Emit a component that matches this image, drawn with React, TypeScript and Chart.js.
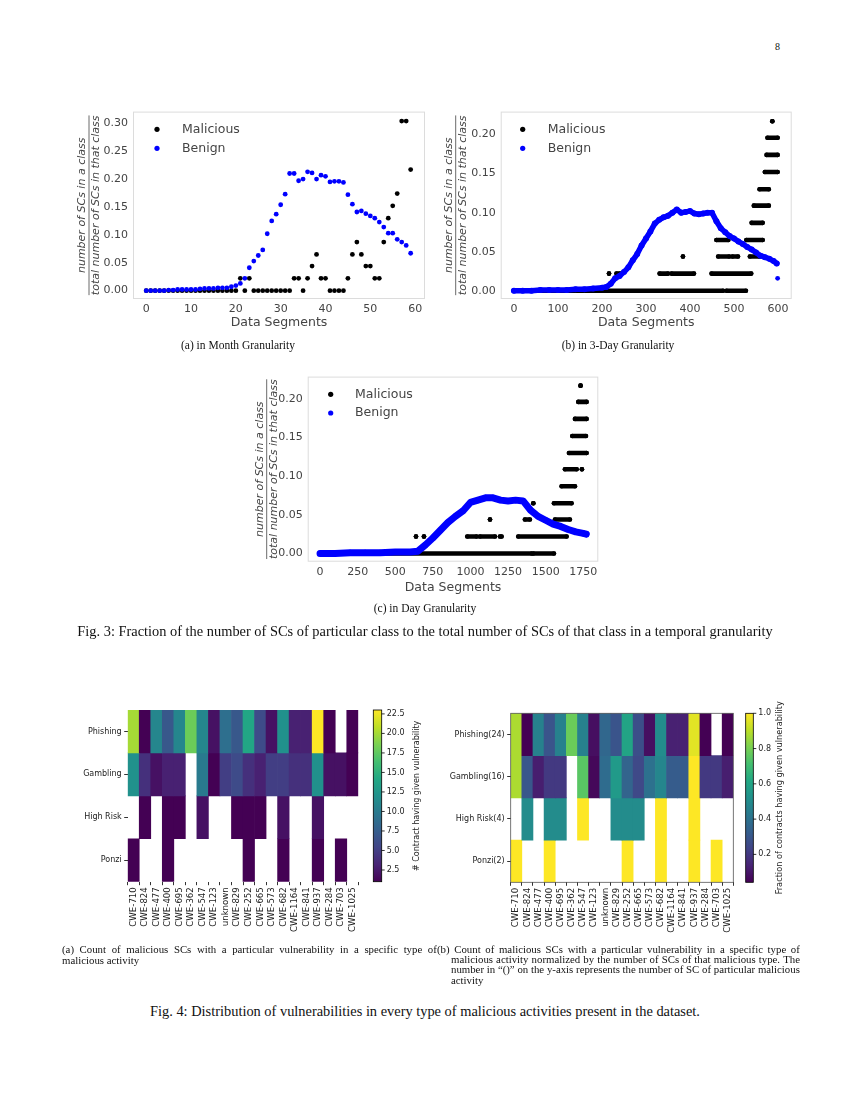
import { useEffect, useRef } from 'react';
import { Chart, registerables } from 'chart.js';

Chart.register(...registerables);
Chart.defaults.font.family = "'DejaVu Sans', sans-serif";

// ---------- Fig. 3 (a): month granularity, one value per segment 0..59 ----------
const monthBenign = [
  0.0, 0.0, 0.0, 0.0, 0.0, 0.001, 0.001, 0.002, 0.002, 0.002, 0.002, 0.002, 0.003, 0.004, 0.004,
  0.004, 0.005, 0.005, 0.005, 0.007, 0.009, 0.013, 0.022, 0.041, 0.053, 0.063, 0.073, 0.102, 0.125,
  0.137, 0.154, 0.173, 0.21, 0.21, 0.197, 0.2, 0.213, 0.211, 0.2, 0.207, 0.205, 0.195, 0.196, 0.196,
  0.194, 0.172, 0.155, 0.141, 0.143, 0.138, 0.134, 0.13, 0.123, 0.114, 0.103, 0.103, 0.092, 0.087,
  0.081, 0.067,
];
const monthMalicious = [
  0, 0, 0, 0, 0, 0, 0, 0, 0, 0, 0, 0, 0, 0, 0, 0, 0, 0, 0, 0, 0, 0.022, 0, 0.022, 0, 0, 0, 0, 0, 0,
  0, 0, 0, 0.022, 0.022, 0, 0.022, 0.044, 0.065, 0.022, 0.022, 0, 0, 0, 0, 0.022, 0.065, 0.087,
  0.065, 0.044, 0.044, 0.022, 0.022, 0.087, 0.13, 0.152, 0.174, 0.304, 0.304, 0.217,
];
const monthXTicks = [0, 10, 20, 30, 40, 50, 60];
const monthYTicks = [0, 0.05, 0.1, 0.15, 0.2, 0.25, 0.3];

// ---------- Fig. 3 (b): 3-day granularity ----------
const threeDayBenignX = [
  0, 20, 40, 60, 80, 100, 120, 140, 160, 180, 200, 210, 220, 230, 240, 250, 260, 270, 280, 290, 300,
  310, 320, 330, 340, 350, 360, 370, 380, 390, 400, 410, 420, 430, 440, 450, 460, 470, 480, 490, 500,
  510, 520, 530, 540, 550, 560, 570, 580, 590, 597,
];
const threeDayBenignY = [
  0.0, 0.0, 0.0, 0.001, 0.001, 0.001, 0.001, 0.002, 0.002, 0.003, 0.004, 0.005, 0.009, 0.016, 0.019,
  0.024, 0.03, 0.039, 0.047, 0.058, 0.067, 0.076, 0.086, 0.091, 0.094, 0.096, 0.1, 0.104, 0.1, 0.101,
  0.102, 0.099, 0.098, 0.099, 0.1, 0.1, 0.089, 0.08, 0.075, 0.07, 0.067, 0.063, 0.06, 0.056, 0.053,
  0.049, 0.045, 0.043, 0.041, 0.038, 0.035,
];
const threeDayOutlierX = [599];
const threeDayOutlierY = [0.016];
// malicious points lie in horizontal runs of consecutive segments
const threeDayMalStart = [0, 483, 216, 233, 331, 358, 449, 384, 464, 496, 536, 460, 528, 540, 545, 558, 570, 574, 576, 587];
const threeDayMalEnd = [475, 527, 216, 241, 350, 409, 539, 384, 489, 509, 558, 487, 565, 565, 579, 579, 599, 599, 599, 587];
const threeDayMalLevel = [0, 0, 0.022, 0.022, 0.022, 0.022, 0.022, 0.044, 0.044, 0.044, 0.044, 0.065, 0.065, 0.087, 0.109, 0.13, 0.152, 0.174, 0.196, 0.217];
const threeDayXTicks = [0, 100, 200, 300, 400, 500, 600];

// ---------- Fig. 3 (c): day granularity ----------
const dayBenignX = [
  0, 100, 200, 300, 400, 500, 600, 650, 700, 750, 800, 850, 900, 950, 1000, 1050, 1100, 1150, 1200,
  1250, 1300, 1350, 1400, 1450, 1500, 1550, 1600, 1650, 1700, 1750, 1770,
];
const dayBenignY = [
  0.0, 0.0, 0.001, 0.001, 0.001, 0.002, 0.002, 0.003, 0.011, 0.02, 0.03, 0.04, 0.048, 0.055, 0.066,
  0.069, 0.072, 0.072, 0.069, 0.068, 0.069, 0.068, 0.056, 0.048, 0.043, 0.038, 0.035, 0.031, 0.028,
  0.026, 0.025,
];
const dayMalStart = [0, 1418, 638, 691, 979, 1063, 1196, 1318, 1130, 1362, 1562, 1418, 1555, 1606, 1628, 1741, 1655, 1677, 1695, 1717, 1732];
const dayMalEnd = [1407, 1555, 638, 691, 1041, 1163, 1207, 1639, 1130, 1395, 1661, 1418, 1672, 1695, 1706, 1741, 1772, 1768, 1772, 1772, 1732];
const dayMalLevel = [0, 0, 0.022, 0.022, 0.022, 0.022, 0.022, 0.022, 0.044, 0.044, 0.044, 0.065, 0.065, 0.087, 0.109, 0.109, 0.13, 0.152, 0.174, 0.196, 0.217];
const dayXTicks = [0, 250, 500, 750, 1000, 1250, 1500, 1750];
const fineYTicks = [0, 0.05, 0.1, 0.15, 0.2];

const legendLabels = ['Malicious', 'Benign'];
const legendColors = ['#000000', '#0000ff'];
const fracTop = 'number of SCs in a class';
const fracBottom = 'total number of SCs in that class';

// ---------- Fig. 4 heatmaps ----------
const cweLabels = [
  'CWE-710', 'CWE-824', 'CWE-477', 'CWE-400', 'CWE-695', 'CWE-362', 'CWE-547', 'CWE-123', 'unknown', 'CWE-829',
  'CWE-252', 'CWE-665', 'CWE-573', 'CWE-682', 'CWE-1164', 'CWE-841', 'CWE-937', 'CWE-284', 'CWE-703', 'CWE-1025',
];
const activityLabels = ['Phishing', 'Gambling', 'High Risk', 'Ponzi'];
const activityLabelsNorm = ['Phishing(24)', 'Gambling(16)', 'High Risk(4)', 'Ponzi(2)'];

const countPhishing = [20, 1, 11, 7, 11, 18, 11, 2, 9, 7, 14, 6, 2, 12, 3, 3, 23, 1, null, 1];
const countGambling = [12, 4, 2, 3, 3, null, 10, 1, 5, 6, 4, 3, 5, 5, 4, 4, 12, 2, 2, 1];
const countHighRisk = [null, 1, null, 1, 1, null, 2, null, null, 1, 1, 1, null, 2, null, null, 2, null, null, null];
const countPonzi = [1, null, null, 1, null, null, null, null, null, null, 1, null, null, 1, null, null, 1, null, 1, null];
const countTicks = [2.5, 5, 7.5, 10, 12.5, 15, 17.5, 20, 22.5];

const fracPhishing = [0.88, 0.04, 0.46, 0.29, 0.46, 0.78, 0.46, 0.08, 0.36, 0.29, 0.6, 0.27, 0.08, 0.5, 0.13, 0.13, 0.96, 0.04, null, 0.04];
const fracGambling = [0.88, 0.3, 0.12, 0.2, 0.2, null, 0.75, 0.06, 0.38, 0.56, 0.35, 0.25, 0.4, 0.48, 0.32, 0.32, 1.0, 0.2, 0.2, 0.12];
const fracHighRisk = [null, 0.5, null, 0.5, 0.5, null, 1.0, null, null, 0.5, 0.5, 0.5, null, 1.0, null, null, 1.0, null, null, null];
const fracPonzi = [1.0, null, null, 1.0, null, null, null, null, null, null, 1.0, null, null, 1.0, null, null, 1.0, null, 1.0, null];
const fracTicks = [0.2, 0.4, 0.6, 0.8, 1.0];

const VIRIDIS = ['#440154', '#482475', '#414487', '#355f8d', '#2a788e', '#21918c', '#22a884', '#44bf70', '#7ad151', '#bddf26', '#fde725'];

function hexRgb(h: string): number[] {
  return [1, 3, 5].map((i) => parseInt(h.slice(i, i + 2), 16));
}

function viridis(t: number): string {
  const c = Math.min(1, Math.max(0, t)) * (VIRIDIS.length - 1);
  const i = Math.min(VIRIDIS.length - 2, Math.floor(c));
  const f = c - i;
  const a = hexRgb(VIRIDIS[i]);
  const b = hexRgb(VIRIDIS[i + 1]);
  const m = a.map((v, k) => Math.round(v + (b[k] - v) * f));
  return `rgb(${m[0]},${m[1]},${m[2]})`;
}

function zip(xs: number[], ys: number[]) {
  return xs.map((x, i) => ({ x, y: ys[i] }));
}

// each run -> two end points plus a break
function runsToPoints(start: number[], end: number[], level: number[]) {
  const pts: { x: number; y: number | null }[] = [];
  start.forEach((s, i) => {
    pts.push({ x: s, y: level[i] }, { x: end[i], y: level[i] }, { x: end[i], y: null });
  });
  return pts;
}

const scatterDecor = {
  id: 'scatterDecor',
  afterDraw(chart: any, _args: any, opts: any) {
    const { ctx, chartArea: a } = chart;
    ctx.save();
    ctx.strokeStyle = '#dcdcdc';
    ctx.lineWidth = 1;
    ctx.strokeRect(a.left + 0.5, a.top + 0.5, a.right - a.left - 1, a.bottom - a.top - 1);

    // legend
    ctx.font = "12.5px 'DejaVu Sans'";
    ctx.textBaseline = 'middle';
    ctx.textAlign = 'left';
    legendLabels.forEach((label, i) => {
      const y = a.top + opts.legendY + i * opts.legendGap;
      ctx.fillStyle = legendColors[i];
      ctx.beginPath();
      ctx.arc(a.left + opts.dotX, y, 2.6, 0, Math.PI * 2);
      ctx.fill();
      ctx.fillStyle = '#444';
      ctx.fillText(label, a.left + opts.textX, y);
    });

    // y label as a fraction
    ctx.translate(a.left + opts.fracOffset, (a.top + a.bottom) / 2);
    ctx.rotate(-Math.PI / 2);
    ctx.font = "italic 11px 'DejaVu Sans'";
    ctx.fillStyle = '#444';
    ctx.textAlign = 'center';
    ctx.textBaseline = 'bottom';
    ctx.fillText(fracTop, 0, -1.5);
    ctx.textBaseline = 'top';
    ctx.fillText(fracBottom, 0, 2);
    const w = ctx.measureText(fracBottom).width;
    ctx.strokeStyle = '#444';
    ctx.lineWidth = 0.8;
    ctx.beginPath();
    ctx.moveTo(-w / 2, 0);
    ctx.lineTo(w / 2, 0);
    ctx.stroke();
    ctx.restore();
  },
};

const heatDecor = {
  id: 'heatDecor',
  afterDraw(chart: any, _args: any, opts: any) {
    const { ctx, chartArea: a } = chart;
    ctx.save();
    ctx.lineWidth = 0.8;
    if (opts.frame) {
      ctx.strokeStyle = '#555';
      ctx.strokeRect(a.left, a.top, a.right - a.left, a.bottom - a.top);
    }

    // colour bar
    const x0 = a.right + opts.cbGap;
    const w = opts.cbWidth;
    const grad = ctx.createLinearGradient(0, a.bottom, 0, a.top);
    VIRIDIS.forEach((c, i) => grad.addColorStop(i / (VIRIDIS.length - 1), c));
    ctx.fillStyle = grad;
    ctx.fillRect(x0, a.top, w, a.bottom - a.top);
    ctx.strokeStyle = '#000';
    ctx.strokeRect(x0, a.top, w, a.bottom - a.top);

    ctx.font = "8px 'DejaVu Sans'";
    ctx.fillStyle = '#222';
    ctx.textAlign = 'left';
    ctx.textBaseline = 'middle';
    (opts.ticks as number[]).forEach((t) => {
      const y = a.bottom - ((t - opts.min) / (opts.max - opts.min)) * (a.bottom - a.top);
      ctx.beginPath();
      ctx.moveTo(x0 + w, y);
      ctx.lineTo(x0 + w + 3, y);
      ctx.stroke();
      ctx.fillText(t.toFixed(1), x0 + w + 5, y);
    });

    ctx.translate(x0 + w + opts.titleOffset, (a.top + a.bottom) / 2);
    ctx.rotate(-Math.PI / 2);
    ctx.font = `${opts.titleSize}px 'DejaVu Sans'`;
    ctx.textAlign = 'center';
    ctx.fillText(opts.title, 0, 0);
    ctx.restore();
  },
};

interface Box {
  left: number;
  top: number;
  width: number;
  height: number;
}

function ChartBox({ box, makeConfig }: { box: Box; makeConfig: () => any }) {
  const ref = useRef<HTMLCanvasElement | null>(null);
  useEffect(() => {
    if (!ref.current) return;
    const chart = new Chart(ref.current, makeConfig());
    return () => chart.destroy();
  }, []);
  return (
    <div style={{ position: 'absolute', left: box.left, top: box.top, width: box.width, height: box.height }}>
      <canvas ref={ref} />
    </div>
  );
}

interface ScatterSpec {
  datasets: any[];
  xRange: [number, number];
  yRange: [number, number];
  xTicks: number[];
  yTicks: number[];
  yAxisWidth: number;
  xAxisHeight: number;
  padTop: number;
  padRight: number;
  decor: any;
}

function scatterConfig(s: ScatterSpec) {
  return {
    type: 'scatter',
    data: { datasets: s.datasets },
    plugins: [scatterDecor],
    options: {
      animation: false,
      responsive: true,
      maintainAspectRatio: false,
      layout: { padding: { top: s.padTop, right: s.padRight, left: 0, bottom: 0 } },
      plugins: { legend: { display: false }, tooltip: { enabled: false }, scatterDecor: s.decor },
      scales: {
        x: {
          type: 'linear',
          min: s.xRange[0],
          max: s.xRange[1],
          grid: { display: false, drawTicks: false },
          border: { display: false },
          afterBuildTicks: (sc: any) => {
            sc.ticks = s.xTicks.map((value) => ({ value }));
          },
          afterFit: (sc: any) => {
            sc.height = s.xAxisHeight;
          },
          ticks: { font: { size: 11 }, color: '#444', padding: 4, maxRotation: 0, autoSkip: false, callback: (v: number) => String(v) },
          title: { display: true, text: 'Data Segments', color: '#444', font: { size: 12.5, lineHeight: 1.2 }, padding: { top: 0, bottom: 14.5 } },
        },
        y: {
          type: 'linear',
          min: s.yRange[0],
          max: s.yRange[1],
          grid: { display: false, drawTicks: false },
          border: { display: false },
          afterBuildTicks: (sc: any) => {
            sc.ticks = s.yTicks.map((value) => ({ value }));
          },
          afterFit: (sc: any) => {
            sc.width = s.yAxisWidth;
          },
          ticks: { font: { size: 11 }, color: '#444', padding: 5, callback: (v: number) => v.toFixed(2) },
        },
      },
    },
  };
}

const dot = { pointRadius: 2.4, pointBorderWidth: 0, pointHoverRadius: 2.4 };

function benignBand(xs: number[], ys: number[], width: number) {
  return {
    data: zip(xs, ys),
    showLine: true,
    borderColor: '#0000ff',
    backgroundColor: '#0000ff',
    borderWidth: width,
    borderJoinStyle: 'round',
    borderCapStyle: 'round',
    pointRadius: 3,
    pointBorderWidth: 0,
  };
}

function maliciousRuns(start: number[], end: number[], level: number[]) {
  return {
    data: runsToPoints(start, end, level),
    showLine: true,
    spanGaps: false,
    borderColor: '#000',
    backgroundColor: '#000',
    borderWidth: 4.6,
    borderCapStyle: 'round',
    pointRadius: 2.3,
    pointBorderWidth: 0,
  };
}

interface HeatSpec {
  rows: (number | null)[][];
  rowLabels: string[];
  min: number;
  max: number;
  ticks: number[];
  yAxisWidth: number;
  xAxisHeight: number;
  padTop: number;
  padRight: number;
  cbGap: number;
  cbWidth: number;
  title: string;
  titleOffset: number;
  titleSize: number;
  frame: boolean;
}

function heatConfig(h: HeatSpec) {
  const n = h.rows.length;
  return {
    type: 'bar',
    data: {
      labels: cweLabels,
      datasets: h.rows.map((vals, r) => ({
        data: vals.map((v) => (v == null ? null : [n - 1 - r, n - r])),
        backgroundColor: vals.map((v) => (v == null ? 'rgba(0,0,0,0)' : viridis((v - h.min) / (h.max - h.min)))),
        borderWidth: 0,
        barPercentage: 1,
        categoryPercentage: 1,
        grouped: false,
      })),
    },
    plugins: [heatDecor],
    options: {
      animation: false,
      responsive: true,
      maintainAspectRatio: false,
      layout: { padding: { top: h.padTop, right: h.padRight, left: 0, bottom: 0 } },
      plugins: {
        legend: { display: false },
        tooltip: { enabled: false },
        heatDecor: {
          min: h.min,
          max: h.max,
          ticks: h.ticks,
          cbGap: h.cbGap,
          cbWidth: h.cbWidth,
          title: h.title,
          titleOffset: h.titleOffset,
          titleSize: h.titleSize,
          frame: h.frame,
        },
      },
      scales: {
        x: {
          type: 'category',
          grid: { display: true, drawOnChartArea: false, drawTicks: true, tickLength: 3.5, color: '#000', lineWidth: 0.8 },
          border: { display: false },
          afterFit: (sc: any) => {
            sc.height = h.xAxisHeight;
          },
          ticks: { font: { size: 8.6 }, color: '#222', padding: 2, minRotation: 90, maxRotation: 90, autoSkip: false },
        },
        y: {
          type: 'linear',
          min: 0,
          max: n,
          grid: { display: true, drawOnChartArea: false, drawTicks: true, tickLength: 3.5, color: '#000', lineWidth: 0.8 },
          border: { display: false },
          afterBuildTicks: (sc: any) => {
            sc.ticks = h.rowLabels.map((_, i) => ({ value: n - 0.5 - i }));
          },
          afterFit: (sc: any) => {
            sc.width = h.yAxisWidth;
          },
          ticks: {
            font: { size: 8 },
            color: '#222',
            padding: 2.5,
            callback: (v: number) => h.rowLabels[n - 1 - Math.floor(v)],
          },
        },
      },
    },
  };
}

const CAPTION_SIZE = 10.8;

function JustLine({ text, left, top, width }: { text: string; left: number; top: number; width: number }) {
  return (
    <div
      style={{
        position: 'absolute',
        left,
        top,
        width,
        display: 'flex',
        justifyContent: 'space-between',
        whiteSpace: 'nowrap',
        fontSize: CAPTION_SIZE,
        lineHeight: '10px',
      }}
    >
      {text.split(' ').map((w, i) => (
        <span key={i}>{w}</span>
      ))}
    </div>
  );
}

function PlainLine({ text, left, top, size = CAPTION_SIZE, center = false }: { text: string; left: number; top: number; size?: number; center?: boolean }) {
  return (
    <div
      style={{
        position: 'absolute',
        left: center ? left - 400 : left,
        top,
        width: center ? 800 : undefined,
        textAlign: center ? 'center' : 'left',
        whiteSpace: 'nowrap',
        fontSize: size,
        lineHeight: `${Math.round(size) + 1}px`,
      }}
    >
      {text}
    </div>
  );
}

export default function App() {
  return (
    <div
      style={{
        position: 'absolute',
        left: 0,
        top: 0,
        width: 850,
        height: 1100,
        background: '#fff',
        fontFamily: "'Liberation Serif', 'Times New Roman', serif",
        color: '#111',
        overflow: 'hidden',
      }}
    >
      <PlainLine text="8" left={775} top={41} size={10} />

      <ChartBox
        box={{ left: 60, top: 100, width: 380, height: 245 }}
        makeConfig={() =>
          scatterConfig({
            datasets: [
              { data: monthBenign.map((y, i) => ({ x: i, y })), backgroundColor: '#0000ff', ...dot },
              { data: monthMalicious.map((y, i) => ({ x: i, y })), backgroundColor: '#000', ...dot },
            ],
            xRange: [-2.95, 62.2],
            yRange: [-0.015, 0.321],
            xTicks: monthXTicks,
            yTicks: monthYTicks,
            yAxisWidth: 73,
            xAxisHeight: 46,
            padTop: 9,
            padRight: 15,
            decor: { dotX: 24, textX: 49, legendY: 17.7, legendGap: 19, fracOffset: -44 },
          })
        }
      />
      <ChartBox
        box={{ left: 440, top: 100, width: 370, height: 245 }}
        makeConfig={() =>
          scatterConfig({
            datasets: [
              benignBand(threeDayBenignX, threeDayBenignY, 5.5),
              { data: zip(threeDayOutlierX, threeDayOutlierY), backgroundColor: '#0000ff', ...dot },
              maliciousRuns(threeDayMalStart, threeDayMalEnd, threeDayMalLevel),
            ],
            xRange: [-30, 631],
            yRange: [-0.0105, 0.2294],
            xTicks: threeDayXTicks,
            yTicks: fineYTicks,
            yAxisWidth: 60.7,
            xAxisHeight: 46,
            padTop: 9,
            padRight: 18.3,
            decor: { dotX: 22, textX: 47, legendY: 17.7, legendGap: 19, fracOffset: -45 },
          })
        }
      />
      <PlainLine text="(a) in Month Granularity" left={238} top={339} size={11.5} center />
      <PlainLine text="(b) in 3-Day Granularity" left={618} top={339} size={11.5} center />

      <ChartBox
        box={{ left: 240, top: 365, width: 370, height: 245 }}
        makeConfig={() =>
          scatterConfig({
            datasets: [
              benignBand(dayBenignX, dayBenignY, 7),
              maliciousRuns(dayMalStart, dayMalEnd, dayMalLevel),
            ],
            xRange: [-82, 1850],
            yRange: [-0.0106, 0.2287],
            xTicks: dayXTicks,
            yTicks: fineYTicks,
            yAxisWidth: 67.7,
            xAxisHeight: 48.3,
            padTop: 7.3,
            padRight: 11.7,
            decor: { dotX: 23, textX: 47.3, legendY: 17.7, legendGap: 18.7, fracOffset: -41 },
          })
        }
      />
      <PlainLine text="(c) in Day Granularity" left={425} top={602} size={11.5} center />
      <PlainLine
        text="Fig. 3: Fraction of the number of SCs of particular class to the total number of SCs of that class in a temporal granularity"
        left={425}
        top={624}
        size={14.4}
        center
      />

      <ChartBox
        box={{ left: 60, top: 700, width: 380, height: 245 }}
        makeConfig={() =>
          heatConfig({
            rows: [countPhishing, countGambling, countHighRisk, countPonzi],
            rowLabels: activityLabels,
            min: 1,
            max: 23,
            ticks: countTicks,
            yAxisWidth: 67.7,
            xAxisHeight: 63.3,
            padTop: 10,
            padRight: 81.7,
            cbGap: 15,
            cbWidth: 8.4,
            title: '# Contract having given vulnerability',
            titleOffset: 35.6,
            titleSize: 8,
            frame: false,
          })
        }
      />
      <ChartBox
        box={{ left: 440, top: 700, width: 360, height: 245 }}
        makeConfig={() =>
          heatConfig({
            rows: [fracPhishing, fracGambling, fracHighRisk, fracPonzi],
            rowLabels: activityLabelsNorm,
            min: 0.0417,
            max: 1.0,
            ticks: fracTicks,
            yAxisWidth: 70.7,
            xAxisHeight: 62.7,
            padTop: 13.3,
            padRight: 66.7,
            cbGap: 12.4,
            cbWidth: 7.6,
            title: 'Fraction of contracts having given vulnerability',
            titleOffset: 26.7,
            titleSize: 8.2,
            frame: true,
          })
        }
      />

      <JustLine text="(a) Count of malicious SCs with a particular vulnerability in a specific type of" left={62} top={944} width={375} />
      <PlainLine text="malicious activity" left={62} top={954} />
      <JustLine text="(b) Count of malicious SCs with a particular vulnerability in a specific type of" left={437} top={944} width={363} />
      <JustLine text="malicious activity normalized by the number of SCs of that malicious type. The" left={451} top={954} width={349} />
      <JustLine text="number in “()” on the y-axis represents the number of SC of particular malicious" left={451} top={964} width={349} />
      <PlainLine text="activity" left={451} top={974} />

      <PlainLine
        text="Fig. 4: Distribution of vulnerabilities in every type of malicious activities present in the dataset."
        left={425}
        top={1004}
        size={14.4}
        center
      />
    </div>
  );
}
